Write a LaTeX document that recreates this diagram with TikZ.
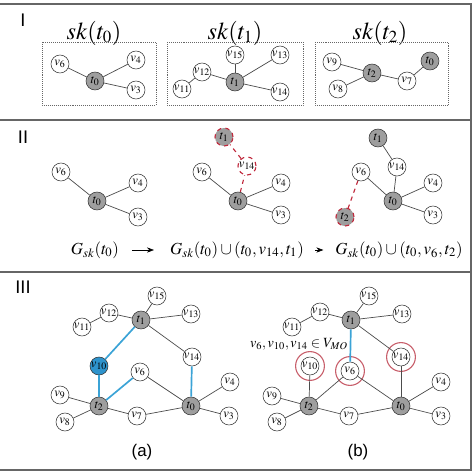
\documentclass[tikz,border=0pt]{standalone}
\usepackage{amsmath}
\usepackage{amssymb}
\usepackage{mathptmx}
\usepackage{fontspec}
\setmainfont{Liberation Serif}
\newfontfamily\panelfont{Liberation Sans}
\usetikzlibrary{arrows.meta}
\definecolor{hitblue}{HTML}{2E93CC}
\definecolor{edgeblue}{HTML}{3BA3D6}
\definecolor{newred}{HTML}{C0283C}
\definecolor{ringred}{HTML}{C8606C}

\begin{document}
\begin{tikzpicture}[x=0.025cm,y=-0.025cm,
  vtx/.style={circle,draw=black!80,fill=white,inner sep=0pt,minimum size=0.45cm,font=\small},
  term/.style={vtx,fill=black!38},
  newvtx/.style={vtx,draw=newred,dashed,thick},
  newterm/.style={term,draw=newred,dashed,thick},
  hit/.style={vtx,fill=hitblue},
  ring/.style={circle,draw=ringred,thick,minimum size=0.72cm,inner sep=0pt},
  edge/.style={draw=black!70,line width=0.5pt},
  newedge/.style={draw=newred,dashed,thick},
  bluedge/.style={draw=edgeblue,line width=1.2pt},
  sketch/.style={draw=black!60,densely dotted},
  panel/.style={font=\panelfont\fontsize{13}{15}\selectfont},
  caption/.style={font=\panelfont\large}]
\useasboundingbox (0,0) rectangle (474,474);

% panel frames
\draw[black!60,line width=1.2pt] (0,4) -- (471,4) -- (471,470) -- (0,470);
\draw[black!60,line width=1.2pt] (0,120) -- (471,120);
\draw[black!60,line width=1.2pt] (0,272) -- (471,272);

% ---------------- panel I
\node[panel] (p1) at (23,20) {I};
\node[font=\LARGE] (s0) at (94,33) {$sk(t_0)$};
\node[font=\LARGE] (s1) at (235,33) {$sk(t_1)$};
\node[font=\LARGE] (s2) at (380,33) {$sk(t_2)$};
\draw[sketch] (42,42) rectangle (156,105);
\draw[sketch] (167,42) rectangle (303,105);
\draw[sketch] (315,42) rectangle (448,105);

% sk(t0)
\node[vtx] (a6) at (60,64) {$v_6$};
\node[term] (a0) at (95,81) {$t_0$};
\node[vtx] (a4) at (136,60) {$v_4$};
\node[vtx] (a3) at (136,90) {$v_3$};
\draw[edge] (a6) -- (a0);
\draw[edge] (a0) -- (a4);
\draw[edge] (a0) -- (a3);

% sk(t1)
\node[vtx] (b15) at (235,55) {$v_{15}$};
\node[vtx] (b13) at (280,55) {$v_{13}$};
\node[vtx] (b12) at (202,72) {$v_{12}$};
\node[term] (b1) at (235,82) {$t_1$};
\node[vtx] (b11) at (182,89) {$v_{11}$};
\node[vtx] (b14) at (280,92) {$v_{14}$};
\draw[edge] (b11) -- (b12);
\draw[edge] (b12) -- (b1);
\draw[edge] (b15) -- (b1);
\draw[edge] (b1) -- (b13);
\draw[edge] (b1) -- (b14);

% sk(t2)
\node[vtx] (c9) at (332,62) {$v_9$};
\node[term] (c2) at (372,73) {$t_2$};
\node[vtx] (c8) at (338,89) {$v_8$};
\node[vtx] (c7) at (407,81) {$v_7$};
\node[term] (c0) at (430,61) {$t_0$};
\draw[edge] (c9) -- (c2);
\draw[edge] (c8) -- (c2);
\draw[edge] (c2) -- (c7);
\draw[edge] (c7) -- (c0);

% ---------------- panel II
\node[panel] (p2) at (23,137) {II};

% G_sk(t0)
\node[vtx] (d6) at (61,172) {$v_6$};
\node[term] (d0) at (97,201) {$t_0$};
\node[vtx] (d4) at (138,183) {$v_4$};
\node[vtx] (d3) at (138,217) {$v_3$};
\draw[edge] (d6) -- (d0);
\draw[edge] (d0) -- (d4);
\draw[edge] (d0) -- (d3);

% adding (t0,v14,t1)
\node[newterm] (e1) at (224,137) {$t_1$};
\node[newvtx] (e14) at (247,166) {$v_{14}$};
\node[vtx] (e6) at (202,172) {$v_6$};
\node[term] (e0) at (238,201) {$t_0$};
\node[vtx] (e4) at (281,183) {$v_4$};
\node[vtx] (e3) at (281,215) {$v_3$};
\draw[edge] (e6) -- (e0);
\draw[edge] (e0) -- (e4);
\draw[edge] (e0) -- (e3);
\draw[newedge] (e0) -- (e14);
\draw[newedge] (e14) -- (e1);

% adding (t0,v6,t2)
\node[term] (f1) at (378,138) {$t_1$};
\node[vtx] (f14) at (397,167) {$v_{14}$};
\node[vtx] (f6) at (361,172) {$v_6$};
\node[term] (f0) at (393,201) {$t_0$};
\node[vtx] (f4) at (433,183) {$v_4$};
\node[vtx] (f3) at (433,215) {$v_3$};
\node[newterm] (f2) at (345,217) {$t_2$};
\draw[edge] (f1) -- (f14);
\draw[edge] (f14) -- (f0);
\draw[edge] (f6) -- (f0);
\draw[edge] (f0) -- (f4);
\draw[edge] (f0) -- (f3);
\draw[newedge] (f6) -- (f2);

% formula row
\node[font=\large] (g1) at (95,250) {$G_{sk}(t_0)$};
\node[font=\large] (g2) at (237,250) {$G_{sk}(t_0)\cup(t_0,v_{14},t_1)$};
\node[font=\large] (g3) at (399,250) {$G_{sk}(t_0)\cup(t_0,v_6,t_2)$};
\draw[-{Stealth[length=5pt]}] (g1.east) ++(8,0) coordinate (q1) -- ([xshift=-8]g2.west);
\draw[-{Stealth[length=5pt]}] (g2.east) ++(6,0) coordinate (q2) -- ([xshift=-5]g3.west);

% ---------------- panel III
\node[panel] (p3) at (23,287) {III};

% (a)
\node[vtx] (h15) at (157,296) {$v_{15}$};
\node[vtx] (h12) at (109,313) {$v_{12}$};
\node[term] (h1) at (141,320) {$t_1$};
\node[vtx] (h13) at (191,314) {$v_{13}$};
\node[vtx] (h11) at (82,327) {$v_{11}$};
\node[vtx] (h14) at (192,357) {$v_{14}$};
\node[hit] (h10) at (99,366) {$v_{10}$};
\node[vtx] (h6) at (140,372) {$v_6$};
\node[vtx] (h4) at (230,382) {$v_4$};
\node[vtx] (h9) at (60,395) {$v_9$};
\node[term] (h2) at (99,406) {$t_2$};
\node[term] (h0) at (191,406) {$t_0$};
\node[vtx] (h7) at (137,416) {$v_7$};
\node[vtx] (h3) at (229,416) {$v_3$};
\node[vtx] (h8) at (65,422) {$v_8$};
\draw[edge] (h11) -- (h12);
\draw[edge] (h12) -- (h1);
\draw[edge] (h1) -- (h15);
\draw[edge] (h1) -- (h13);
\draw[edge] (h1) -- (h14);
\draw[edge] (h6) -- (h0);
\draw[edge] (h9) -- (h2);
\draw[edge] (h8) -- (h2);
\draw[edge] (h2) -- (h7);
\draw[edge] (h7) -- (h0);
\draw[edge] (h0) -- (h4);
\draw[edge] (h0) -- (h3);
\draw[bluedge] (h1) -- (h10);
\draw[bluedge] (h10) -- (h2);
\draw[bluedge] (h2) -- (h6);
\draw[bluedge] (h14) -- (h0);
\node[caption] (ca) at (142,452) {(a)};

% (b)
\node[ring] (r10) at (310,366) {};
\node[ring] (r6) at (350,371) {};
\node[ring] (r14) at (401,357) {};
\node[vtx] (k15) at (369,296) {$v_{15}$};
\node[vtx] (k12) at (320,312) {$v_{12}$};
\node[term] (k1) at (351,320) {$t_1$};
\node[vtx] (k13) at (402,314) {$v_{13}$};
\node[vtx] (k11) at (292,327) {$v_{11}$};
\node[vtx] (k10) at (310,366) {$v_{10}$};
\node[vtx] (k6) at (350,371) {$v_6$};
\node[vtx] (k14) at (401,357) {$v_{14}$};
\node[vtx] (k4) at (441,382) {$v_4$};
\node[vtx] (k9) at (272,396) {$v_9$};
\node[term] (k2) at (309,406) {$t_2$};
\node[term] (k0) at (401,406) {$t_0$};
\node[vtx] (k7) at (349,416) {$v_7$};
\node[vtx] (k3) at (441,416) {$v_3$};
\node[vtx] (k8) at (277,422) {$v_8$};
\node (mo) at (299,344) {$v_6,v_{10},v_{14}\in V_{MO}$};
\draw[edge] (k11) -- (k12);
\draw[edge] (k12) -- (k1);
\draw[edge] (k1) -- (k15);
\draw[edge] (k1) -- (k13);
\draw[edge] (k1) -- (k14);
\draw[edge] (k10) -- (k2);
\draw[edge] (k2) -- (k6);
\draw[edge] (k6) -- (k0);
\draw[edge] (k14) -- (k0);
\draw[edge] (k9) -- (k2);
\draw[edge] (k8) -- (k2);
\draw[edge] (k2) -- (k7);
\draw[edge] (k7) -- (k0);
\draw[edge] (k0) -- (k4);
\draw[edge] (k0) -- (k3);
\draw[bluedge] (k1) -- (k6);
\node[caption] (cb) at (358,452) {(b)};
\end{tikzpicture}
\end{document}
